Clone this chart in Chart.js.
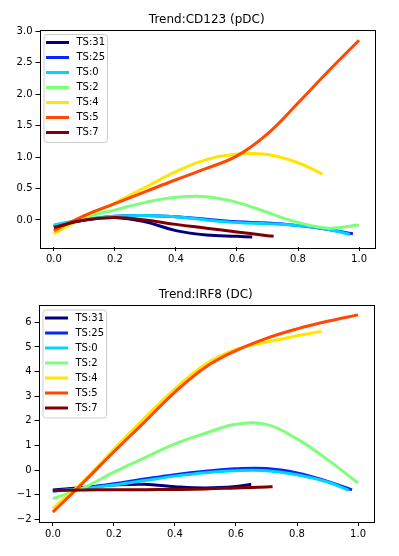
<!DOCTYPE html>
<html>
<head>
<meta charset="utf-8">
<script src="https://cdn.jsdelivr.net/npm/chart.js@4.4.1/dist/chart.umd.min.js"></script>
<style>
  body { margin: 0; background: #fff; }
  canvas { display: block; }
</style>
</head>
<body>
<canvas id="cd123" width="399" height="278"></canvas>
<canvas id="irf8" width="399" height="278"></canvas>
<script>
const seriesNames = ["TS:31", "TS:25", "TS:0", "TS:2", "TS:4", "TS:5", "TS:7"];
const seriesColors = ["#00007f", "#0028ff", "#00d4ff", "#7dff7a", "#ffe500", "#ff4800", "#7f0000"];

// pseudotime where each lineage is sampled (they end at different points)
const tTS31 = [0, 0.1, 0.2, 0.3, 0.4, 0.5, 0.6, 0.65];
const tTS25 = [0, 0.1, 0.2, 0.3, 0.4, 0.5, 0.6, 0.7, 0.8, 0.9, 0.98];
const tTS0  = [0, 0.1, 0.2, 0.3, 0.4, 0.5, 0.6, 0.7, 0.8, 0.9, 0.97];
const tTS2  = [0, 0.1, 0.2, 0.3, 0.4, 0.5, 0.6, 0.7, 0.8, 0.9, 1.0];
const tTS4  = [0, 0.1, 0.2, 0.3, 0.4, 0.5, 0.6, 0.7, 0.8, 0.88];
const tTS5  = [0, 0.1, 0.2, 0.3, 0.4, 0.5, 0.6, 0.7, 0.8, 0.9, 1.0];
const tTS7  = [0, 0.1, 0.2, 0.3, 0.4, 0.5, 0.6, 0.7, 0.72];
const seriesT = [tTS31, tTS25, tTS0, tTS2, tTS4, tTS5, tTS7];

// Trend:CD123 (pDC)
const cd123TS31 = [-0.10, 0.00, 0.04, -0.03, -0.17, -0.24, -0.26, -0.27];
const cd123TS25 = [-0.10, 0.00, 0.06, 0.07, 0.05, 0.01, -0.03, -0.05, -0.09, -0.15, -0.22];
const cd123TS0  = [-0.08, 0.01, 0.06, 0.07, 0.05, 0.00, -0.04, -0.06, -0.09, -0.15, -0.23];
const cd123TS2  = [-0.16, 0.04, 0.16, 0.28, 0.36, 0.37, 0.28, 0.12, -0.04, -0.13, -0.08];
const cd123TS4  = [-0.22, 0.05, 0.27, 0.52, 0.77, 0.96, 1.05, 1.04, 0.91, 0.73];
const cd123TS5  = [-0.17, 0.07, 0.26, 0.45, 0.64, 0.82, 1.02, 1.37, 1.86, 2.37, 2.86];
const cd123TS7  = [-0.12, 0.00, 0.04, 0.00, -0.07, -0.13, -0.19, -0.25, -0.26];
const cd123Ticks = [0, 0.5, 1.0, 1.5, 2.0, 2.5, 3.0];

// Trend:IRF8 (DC)
const irf8TS31 = [-0.80, -0.70, -0.60, -0.57, -0.67, -0.72, -0.66, -0.57];
const irf8TS25 = [-0.85, -0.72, -0.55, -0.36, -0.18, -0.04, 0.06, 0.07, -0.11, -0.45, -0.80];
const irf8TS0  = [-0.85, -0.75, -0.60, -0.42, -0.24, -0.10, -0.02, -0.02, -0.18, -0.48, -0.82];
const irf8TS2  = [-1.15, -0.72, -0.08, 0.50, 1.07, 1.50, 1.86, 1.86, 1.27, 0.43, -0.52];
const irf8TS4  = [-1.55, -0.45, 0.85, 2.10, 3.30, 4.30, 4.90, 5.20, 5.45, 5.63];
const irf8TS5  = [-1.70, -0.50, 0.75, 1.95, 3.17, 4.18, 4.85, 5.35, 5.73, 6.04, 6.30];
const irf8TS7  = [-0.82, -0.80, -0.79, -0.79, -0.78, -0.76, -0.72, -0.68, -0.67];
const irf8Ticks = [-2, -1, 0, 1, 2, 3, 4, 5, 6];

const xTicks = [0, 0.2, 0.4, 0.6, 0.8, 1.0];

const FONT = '"DejaVu Sans", sans-serif';

// matplotlib style: title centred on the axes, full box around the axes,
// framed legend in the upper left
const boxLegend = {
  id: 'boxLegend',
  afterLayout(chart) {
    const tb = chart.titleBlock, a = chart.chartArea;
    if (tb && a) { tb.left = a.left; tb.right = a.right; tb.width = a.right - a.left; }
  },
  afterDraw(chart) {
    const { ctx, chartArea: a } = chart;
    ctx.save();
    ctx.strokeStyle = '#000';
    ctx.lineWidth = 1;
    ctx.strokeRect(Math.round(a.left) + 0.5, Math.round(a.top) + 0.5,
                   Math.round(a.right - a.left), Math.round(a.bottom - a.top));

    const fx = a.left + 4.5, fy = a.top + 5;
    ctx.beginPath();
    if (ctx.roundRect) ctx.roundRect(fx, fy, 63.5, 108, 3);
    else ctx.rect(fx, fy, 63.5, 108);
    ctx.fillStyle = 'rgba(255,255,255,0.8)';
    ctx.fill();
    ctx.strokeStyle = '#cccccc';
    ctx.stroke();

    ctx.font = '10px ' + FONT;
    ctx.textBaseline = 'middle';
    ctx.textAlign = 'left';
    seriesNames.forEach((name, i) => {
      const y = a.top + 13 + 15 * i;
      ctx.beginPath();
      ctx.moveTo(a.left + 6.5, y);
      ctx.lineTo(a.left + 29.5, y);
      ctx.strokeStyle = seriesColors[i];
      ctx.lineWidth = 3;
      ctx.stroke();
      ctx.fillStyle = '#000';
      ctx.fillText(name, a.left + 37, y);
    });
    ctx.restore();
  }
};

function makeChart(id, title, ys, yMin, yMax, yTicks, fmt, g) {
  const datasets = seriesNames.map((name, i) => ({
    label: name,
    data: seriesT[i].map((t, j) => ({ x: t, y: ys[i][j] })),
    borderColor: seriesColors[i],
    backgroundColor: seriesColors[i],
    borderWidth: 3,
    pointRadius: 0,
    tension: 0.4,
    fill: false,
    order: seriesNames.length - i // later lineages drawn on top, like matplotlib
  }));

  return new Chart(document.getElementById(id), {
    type: 'line',
    data: { datasets },
    options: {
      responsive: false,
      animation: false,
      layout: { padding: { left: 0, right: g.right, top: 0, bottom: 0 } },
      plugins: {
        legend: { display: false },
        tooltip: { enabled: false },
        title: {
          display: true,
          text: title,
          color: '#000',
          font: { family: FONT, size: 12, weight: 'normal', lineHeight: 1.2 },
          padding: { top: g.titleTop, bottom: g.titleBottom }
        }
      },
      scales: {
        x: {
          type: 'linear',
          min: -0.047,
          max: 1.049,
          afterBuildTicks: s => { s.ticks = xTicks.map(v => ({ value: v })); },
          afterFit: s => { s.height = g.xAxisH; },
          border: { display: false },
          grid: { drawOnChartArea: false, drawTicks: true, tickLength: 4, color: '#000' },
          ticks: {
            autoSkip: false, maxRotation: 0, padding: 2, color: '#000',
            font: { family: FONT, size: 10 },
            callback: v => v.toFixed(1)
          }
        },
        y: {
          type: 'linear',
          min: yMin,
          max: yMax,
          afterBuildTicks: s => { s.ticks = yTicks.map(v => ({ value: v })); },
          afterFit: s => { s.width = g.left; },
          border: { display: false },
          grid: { drawOnChartArea: false, drawTicks: true, tickLength: 4, color: '#000' },
          ticks: {
            autoSkip: false, padding: 3, color: '#000',
            font: { family: FONT, size: 10 },
            callback: fmt
          }
        }
      }
    },
    plugins: [boxLegend]
  });
}

makeChart('cd123', 'Trend:CD123 (pDC)',
  [cd123TS31, cd123TS25, cd123TS0, cd123TS2, cd123TS4, cd123TS5, cd123TS7],
  -0.43, 3.03, cd123Ticks, v => v.toFixed(1),
  { left: 39.5, right: 25, titleTop: 12.3, titleBottom: 2.8, xAxisH: 31 });

makeChart('irf8', 'Trend:IRF8 (DC)',
  [irf8TS31, irf8TS25, irf8TS0, irf8TS2, irf8TS4, irf8TS5, irf8TS7],
  -2.1, 6.7, irf8Ticks, v => String(v).replace('-', '\u2212'),
  { left: 38.5, right: 26, titleTop: 9.8, titleBottom: 2.8, xAxisH: 34 });
</script>
</body>
</html>
